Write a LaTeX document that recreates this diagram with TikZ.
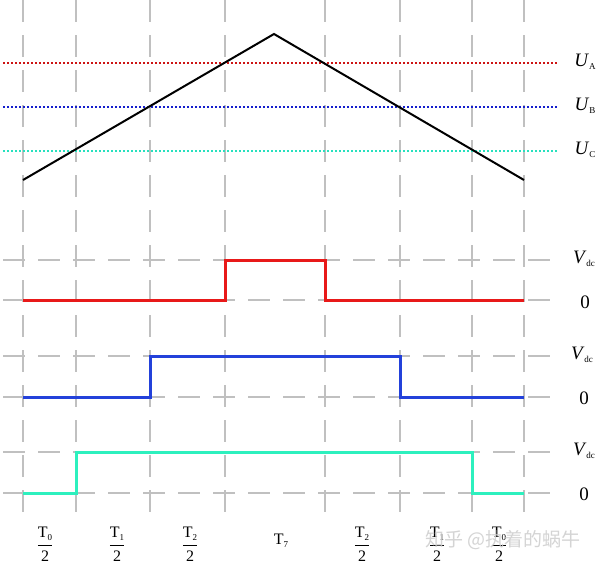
\documentclass[tikz,border=0pt]{standalone}
\usepackage{fontspec}
\setmainfont{Liberation Serif}
\newfontfamily\cjk{Noto Sans CJK SC}
\definecolor{gridgray}{RGB}{192,192,192}
\definecolor{refred}{RGB}{205,20,20}
\definecolor{refblue}{RGB}{20,30,205}
\definecolor{refcyan}{RGB}{40,225,190}
\definecolor{pred}{RGB}{232,25,25}
\definecolor{pblue}{RGB}{35,65,218}
\definecolor{pcyan}{RGB}{45,240,190}
\definecolor{wmark}{RGB}{205,205,205}
\newcommand\lowsub[1]{\raisebox{-3pt}{\fontsize{9}{9}\selectfont #1}}
\newcommand\halfT[1]{\ensuremath{\displaystyle\frac{\hbox{T\lowsub{#1}}}{\hbox{2}}}}
\begin{document}
\begin{tikzpicture}[x=1pt,y=-1pt,
  gridline/.style={gridgray, line width=1.1pt, dash pattern=on 22pt off 13pt},
  refline/.style={line width=1.4pt, dash pattern=on 2pt off 2pt},
  carrier/.style={black, line width=2pt},
  wave/.style={line width=3pt},
  lbl/.style={font=\fontsize{19}{19}\selectfont, inner sep=0pt},
  tlbl/.style={font=\fontsize{16}{16}\selectfont, inner sep=0pt}]
\useasboundingbox (0,0) rectangle (600,565);
\fill[white] (0,0) rectangle (600,565);
% grid
\foreach \x in {23,76,150,225,325,400,472,524}
  \draw[gridline] (\x,0) -- (\x,517);
\foreach \y in {260,300,356,397,452,493}
  \draw[gridline] (3,\y) -- (557,\y);
% reference levels
\draw[refline, refred] (3,63) -- (557,63);
\draw[refline, refblue] (3,107) -- (557,107);
\draw[refline, refcyan] (3,151) -- (557,151);
% carrier
\coordinate (c0) at (23,180);
\coordinate (cp) at (274,34);
\coordinate (c1) at (524,180);
\draw[carrier, line join=miter] (c0) -- (cp) -- (c1);
% pulses
\draw[wave, pred] (23,300) -- (225,300) -- (225,260) -- (325,260) -- (325,300) -- (524,300);
\draw[wave, pblue] (23,397) -- (150,397) -- (150,356) -- (400,356) -- (400,397) -- (524,397);
\draw[wave, pcyan] (23,493) -- (76,493) -- (76,452) -- (472,452) -- (472,493) -- (524,493);
% right labels
\node[lbl] (ua) at (585,62) {\textit{U}\lowsub{A}};
\node[lbl] (ub) at (585,106) {\textit{U}\lowsub{B}};
\node[lbl] (uc) at (585,150) {\textit{U}\lowsub{C}};
\node[lbl] (v1) at (584,259) {\textit{V}\lowsub{dc}};
\node[lbl] (z1) at (585,302) {0};
\node[lbl] (v2) at (582,355) {\textit{V}\lowsub{dc}};
\node[lbl] (z2) at (584,398) {0};
\node[lbl] (v3) at (584,451) {\textit{V}\lowsub{dc}};
\node[lbl] (z3) at (584,494) {0};
% bottom labels
\node[tlbl] (t0a) at (45,544) {\halfT{0}};
\node[tlbl] (t1a) at (117,544) {\halfT{1}};
\node[tlbl] (t2a) at (190,544) {\halfT{2}};
\node[tlbl] (t7) at (281,541) {T\lowsub{7}};
\node[tlbl] (t2b) at (362,544) {\halfT{2}};
\node[tlbl] (t1b) at (437,544) {\halfT{1}};
\node[tlbl] (t0b) at (499,544) {\halfT{0}};
% watermark
\node[inner sep=0pt, text=wmark, opacity=0.85, font=\cjk\fontsize{19}{19}\selectfont, anchor=west] (wm) at (425,540) {知乎 @执着的蜗牛};
\end{tikzpicture}
\end{document}
